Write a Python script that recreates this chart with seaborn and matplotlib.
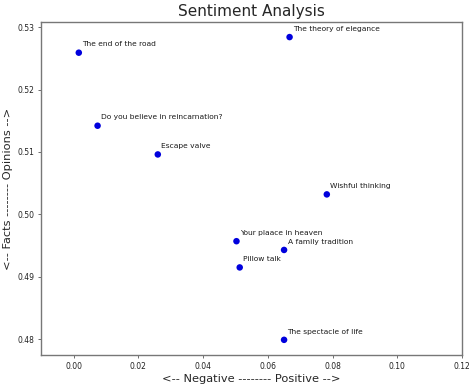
import matplotlib
matplotlib.use("Agg")
import matplotlib.pyplot as plt
import seaborn as sns
import pandas as pd

# Titles and their sentiment scores
titles = [
    "The end of the road",
    "The theory of elegance",
    "Do you believe in reincarnation?",
    "Escape valve",
    "Wishful thinking",
    "Your plaace in heaven",
    "A family tradition",
    "Pillow talk",
    "The spectacle of life",
]
polarity = [0.0016, 0.0667, 0.0074, 0.0260, 0.0782, 0.0503, 0.0650, 0.0513, 0.0650]
subjectivity = [0.5259, 0.5284, 0.5142, 0.5096, 0.5032, 0.4957, 0.4943, 0.4915, 0.4799]

df = pd.DataFrame({"title": titles, "polarity": polarity, "subjectivity": subjectivity})

sns.set_style("white")
plt.rcParams["font.family"] = ["DejaVu Sans"]

fig, ax = plt.subplots(figsize=(4.74, 3.85), dpi=100)
sns.scatterplot(data=df, x="polarity", y="subjectivity", color="#0000dd",
                s=22, edgecolor="none", ax=ax)

for _, row in df.iterrows():
    ax.annotate(row["title"], (row["polarity"], row["subjectivity"]),
                xytext=(2.5, 4.5), textcoords="offset points", fontsize=5.4, color="#1a1a1a")

ax.set_xlim(-0.01, 0.12)
ax.set_xticks([0.00, 0.02, 0.04, 0.06, 0.08, 0.10, 0.12])
ax.set_yticks([0.48, 0.49, 0.50, 0.51, 0.52, 0.53])
ax.set_xticklabels(["0.00", "0.02", "0.04", "0.06", "0.08", "0.10", "0.12"])
ax.set_yticklabels(["0.48", "0.49", "0.50", "0.51", "0.52", "0.53"])
ax.tick_params(axis="both", labelsize=5.5, length=2.5, width=0.6, color="#555555",
               left=True, bottom=True, pad=2.5, labelcolor="#222222")

for sp in ax.spines.values():
    sp.set_color("#777777")
    sp.set_linewidth(1.0)

ax.set_title("Sentiment Analysis", fontsize=11, pad=4)
ax.set_xlabel("<-- Negative -------- Positive -->", fontsize=8.2, labelpad=2)
ax.set_ylabel("<-- Facts -------- Opinions -->", fontsize=8.2, labelpad=3)

fig.subplots_adjust(left=0.087, right=0.975, top=0.943, bottom=0.078)
fig.savefig("out.png", dpi=100)
